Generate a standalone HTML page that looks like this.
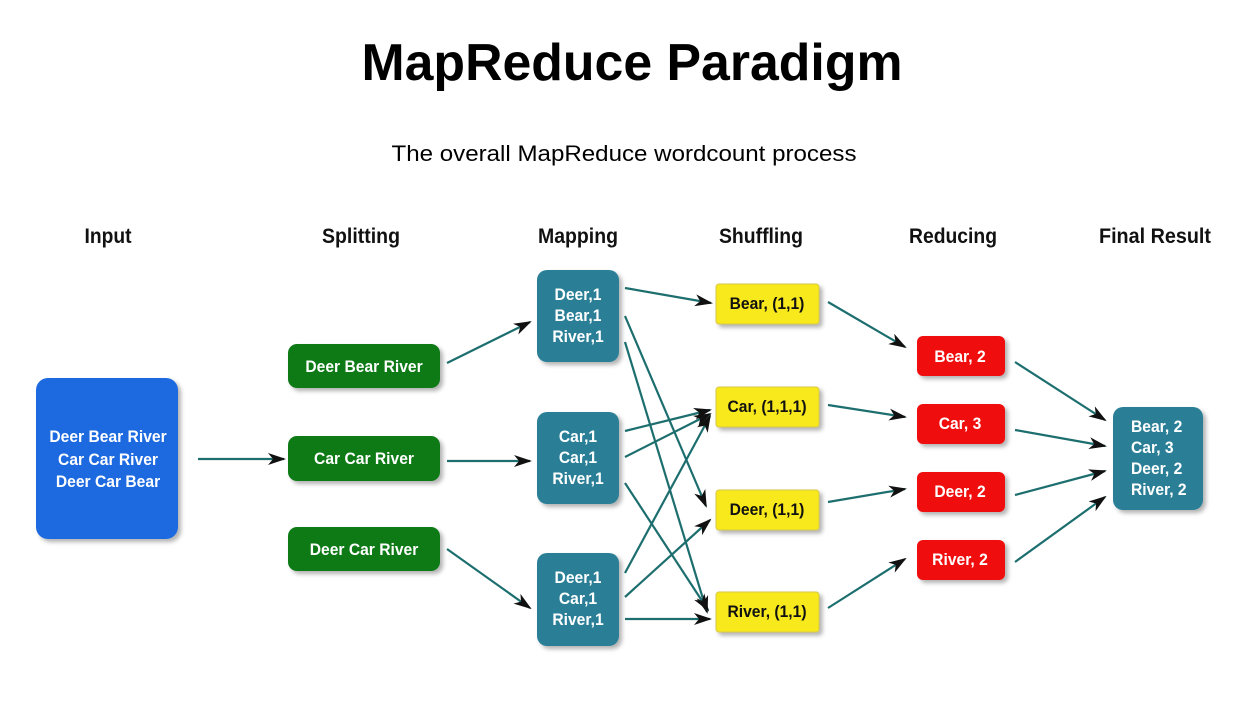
<!DOCTYPE html>
<html><head><meta charset="utf-8"><style>
html,body{margin:0;padding:0;background:#fff;}
svg{display:block;}
.t{font-family:"Liberation Sans Narrow","Liberation Sans",sans-serif;font-weight:bold;}
.w{fill:#fff;font-size:17px;}
.k{fill:#111;font-size:17px;}
.w text,.k text{transform-box:fill-box;transform-origin:center;transform:scaleX(0.92);}
.fl text{transform-origin:left center;}
.h{fill:#111;font-size:21px;}
.ln{stroke:#1d6e6e;stroke-width:2.2;fill:none;}
</style></head><body>
<svg width="1248" height="702" viewBox="0 0 1248 702" xmlns="http://www.w3.org/2000/svg">
<defs>
<marker id="a" markerWidth="18" markerHeight="12" refX="16" refY="6" orient="auto" markerUnits="userSpaceOnUse">
<path d="M0,0 L18,6 L0,12 L5,6 Z" fill="#111"/>
</marker>
<filter id="s" x="-20%" y="-20%" width="150%" height="150%"><feDropShadow dx="3" dy="3" stdDeviation="2" flood-color="#000" flood-opacity="0.3"/></filter>
</defs>
<text x="632" y="80" text-anchor="middle" font-family="Liberation Sans,sans-serif" font-weight="bold" font-size="52" textLength="541" lengthAdjust="spacingAndGlyphs" fill="#000">MapReduce Paradigm</text>
<text x="624" y="161" text-anchor="middle" font-family="Liberation Sans,sans-serif" font-size="22" textLength="465" lengthAdjust="spacingAndGlyphs" fill="#000">The overall MapReduce wordcount process</text>

<g class="t h" text-anchor="middle">
<text x="108" y="243" textLength="47" lengthAdjust="spacingAndGlyphs">Input</text>
<text x="361" y="243" textLength="78" lengthAdjust="spacingAndGlyphs">Splitting</text>
<text x="578" y="243" textLength="80" lengthAdjust="spacingAndGlyphs">Mapping</text>
<text x="761" y="243" textLength="84" lengthAdjust="spacingAndGlyphs">Shuffling</text>
<text x="953" y="243" textLength="88" lengthAdjust="spacingAndGlyphs">Reducing</text>
<text x="1155" y="243" textLength="112" lengthAdjust="spacingAndGlyphs">Final Result</text>
</g>

<g class="ln" marker-end="url(#a)">
<line x1="198" y1="459" x2="284" y2="459"/>
<line x1="447" y1="363" x2="530" y2="322"/>
<line x1="447" y1="461" x2="530" y2="461"/>
<line x1="447" y1="549" x2="530" y2="608"/>
<line x1="625" y1="288" x2="711" y2="303"/>
<line x1="625" y1="316" x2="706" y2="506"/>
<line x1="625" y1="342" x2="707" y2="612"/>
<line x1="625" y1="431" x2="710" y2="410"/>
<line x1="625" y1="457" x2="710" y2="414"/>
<line x1="625" y1="483" x2="708" y2="610"/>
<line x1="625" y1="573" x2="710" y2="416"/>
<line x1="625" y1="597" x2="710" y2="520"/>
<line x1="625" y1="619" x2="710" y2="619"/>
<line x1="828" y1="302" x2="905" y2="347"/>
<line x1="828" y1="405" x2="905" y2="417"/>
<line x1="828" y1="502" x2="905" y2="489"/>
<line x1="828" y1="608" x2="905" y2="559"/>
<line x1="1015" y1="362" x2="1105" y2="420"/>
<line x1="1015" y1="430" x2="1105" y2="446"/>
<line x1="1015" y1="495" x2="1105" y2="471"/>
<line x1="1015" y1="562" x2="1105" y2="497"/>
</g>

<rect x="36" y="378" width="142" height="161" rx="12" fill="#1f69e0" filter="url(#s)"/>
<g class="t w" text-anchor="middle">
<text x="108" y="442">Deer Bear River</text>
<text x="108" y="465">Car Car River</text>
<text x="108" y="487">Deer Car Bear</text>
</g>

<g fill="#0b7a16" filter="url(#s)">
<rect x="288" y="344" width="152" height="44" rx="9"/>
<rect x="288" y="436" width="152" height="45" rx="9"/>
<rect x="288" y="527" width="152" height="44" rx="9"/>
</g>
<g class="t w" text-anchor="middle">
<text x="364" y="372">Deer Bear River</text>
<text x="364" y="464">Car Car River</text>
<text x="364" y="555">Deer Car River</text>
</g>

<g fill="#2a7f97" filter="url(#s)">
<rect x="537" y="270" width="82" height="92" rx="10"/>
<rect x="537" y="412" width="82" height="92" rx="10"/>
<rect x="537" y="553" width="82" height="93" rx="10"/>
</g>
<g class="t w" text-anchor="middle">
<text x="578" y="300">Deer,1</text><text x="578" y="321">Bear,1</text><text x="578" y="342">River,1</text>
<text x="578" y="442">Car,1</text><text x="578" y="463">Car,1</text><text x="578" y="484">River,1</text>
<text x="578" y="583">Deer,1</text><text x="578" y="604">Car,1</text><text x="578" y="625">River,1</text>
</g>

<g fill="#f7e91e" stroke="#d8c84a" stroke-width="1" filter="url(#s)">
<rect x="716" y="284" width="103" height="40" rx="3"/>
<rect x="716" y="387" width="103" height="40" rx="3"/>
<rect x="716" y="490" width="103" height="40" rx="3"/>
<rect x="716" y="592" width="103" height="40" rx="3"/>
</g>
<g class="t k" text-anchor="middle">
<text x="767" y="309">Bear, (1,1)</text>
<text x="767" y="412">Car, (1,1,1)</text>
<text x="767" y="515">Deer, (1,1)</text>
<text x="767" y="617">River, (1,1)</text>
</g>

<g fill="#f01010" filter="url(#s)">
<rect x="917" y="336" width="88" height="40" rx="6"/>
<rect x="917" y="404" width="88" height="40" rx="6"/>
<rect x="917" y="472" width="88" height="40" rx="6"/>
<rect x="917" y="540" width="88" height="40" rx="6"/>
</g>
<g class="t w" text-anchor="middle">
<text x="960" y="362">Bear, 2</text>
<text x="960" y="429">Car, 3</text>
<text x="960" y="497">Deer, 2</text>
<text x="960" y="565">River, 2</text>
</g>

<rect x="1113" y="407" width="90" height="103" rx="10" fill="#2a7f97" filter="url(#s)"/>
<g class="t w fl">
<text x="1131" y="432">Bear, 2</text>
<text x="1131" y="453">Car, 3</text>
<text x="1131" y="474">Deer, 2</text>
<text x="1131" y="495">River, 2</text>
</g>
</svg>
</body></html>
